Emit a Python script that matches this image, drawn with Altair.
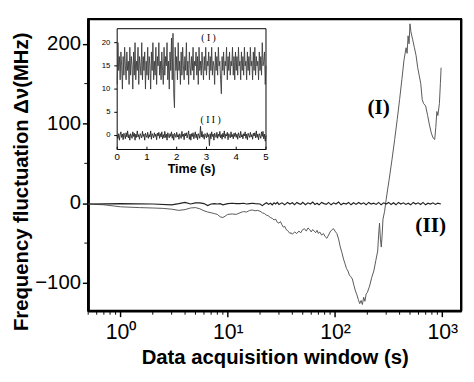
import math
import altair as alt
import pandas as pd

# ---- main curve (I) ----
c1_x = [0.5, 0.7, 1.0, 1.5, 2.0, 2.5, 3.0, 3.5, 4.0, 4.5, 5.0, 5.5, 6.0, 6.5, 7.0, 7.5, 8.0, 8.5, 9.0, 9.5,
        10, 11, 12, 13, 14, 15, 16, 17, 18, 19, 20, 21, 22, 23, 24, 25, 26, 27, 28, 29,
        30, 31, 32, 33, 34, 35, 36, 37, 38, 39, 40, 42, 44, 46, 48, 50, 52, 54, 56, 58,
        60, 62, 64, 66, 68, 70, 72, 75, 78, 81, 84, 87, 90, 94, 97, 100, 104, 108, 112, 116,
        120, 124, 128, 132, 136, 140, 145, 150, 155, 160, 165, 170, 175, 180, 185, 190, 195, 200, 210, 220,
        230, 240, 250, 255, 260, 265, 270, 275, 280, 290, 300, 310, 320, 340, 360, 380, 400, 420, 440, 460,
        470, 480, 490, 500, 510, 530, 550, 570, 590, 610, 630, 650, 670, 700, 730, 760, 790, 820, 850, 870,
        890, 910, 940, 960, 975]
c1_y = [-1, -2, -4.5, -5.5, -6, -6.5, -7.5, -9, -8, -6, -5.5, -7, -9.5, -11, -12, -13, -14, -17, -18, -16,
        -14, -13.5, -14, -12, -10.5, -11, -9, -8.5, -9.5, -9, -10, -12, -13, -15, -16, -18, -19, -21, -20, -24,
        -25, -23, -27, -30, -29, -33, -34, -36, -38, -37, -39, -36, -38, -35, -37, -33, -32, -35, -31, -33,
        -36, -33, -35, -37, -34, -38, -36, -40, -38, -42, -44, -40, -36, -33, -32, -35, -38, -45, -55, -62,
        -70, -76, -82, -85, -90, -92, -95, -103, -110, -115, -121, -126, -122, -127, -118, -123, -114, -112, -104, -93,
        -85, -72, -60, -40, -25, -45, -55, -40, -20, -10, 5, 18, 30, 55, 80, 105, 130, 155, 180, 195,
        188, 210, 200, 225, 215, 205, 195, 185, 170, 160, 150, 130, 125, 122, 110, 98, 88, 82, 80, 95,
        115, 110, 125, 150, 170]

# ---- main curve (II) ----
c2_x = [0.5, 1, 2, 3, 3.5, 4, 4.5, 5, 5.5, 6, 6.5, 7, 7.5, 8, 8.5, 9, 10, 11, 12, 13,
        14, 15, 16, 17, 18, 20, 21, 22, 23, 24, 25, 26, 27, 28, 29, 30, 32, 34, 36, 38,
        40, 42, 44, 46, 48, 50, 53, 56, 59, 62, 65, 68, 71, 75, 79, 83, 87, 92, 97, 102,
        108, 114, 120, 127, 134, 141, 149, 157, 166, 175, 185, 195, 206, 217, 229, 242, 255, 269, 284, 300,
        316, 333, 351, 370, 390, 411, 433, 457, 482, 508, 536, 565, 596, 628, 662, 698, 736, 776, 818, 862,
        910, 970]
c2_y = [-1, -0.5, -1, -2, -0.5, 1, -1, 0.5, 0.5, -0.5, -3, -1, -0.5, -1, -0.5, -2, -0.5, 0, -0.5, -0.5,
        0, -1, -0.5, 0, -0.5, -1, -3, -1, 0.5, -1.5, 0, -2, 0.5, -1, 1, -1.5, 0.5, -2, 1, -1,
        0.5, -2, 1, -0.5, -1.5, 1, -2, 0.5, -1, 1.5, -1.5, 0, -2, 1, -0.5, -1.5, 1, -2, 0.5, -1,
        1.5, -2, 0, -1, 1, -2, 0.5, -1.5, 1, -1, 0.5, -2, 1, -1, 0, -1.5, 1, -2, 0.5, -1,
        1, -1.5, 0.5, -2, 1, -1, 0.5, -1.5, 0, -2, 1, -1, 0.5, -1.5, 1, -2, 0, -1, 0.5, -1.5,
        0, -1]

# ---- inset ----
in_t = [i * 0.025 for i in range(201)]
in1 = [11, 20, 14, 17, 12, 18, 15, 10, 17, 13, 19, 15, 12, 18, 14, 16, 11, 19, 13, 17,
       15, 10, 18, 13, 20, 12, 16, 14, 19, 11, 17, 15, 13, 20, 12, 17, 14, 18, 10, 16,
       13, 19, 12, 17, 15, 10, 18, 14, 20, 12, 16, 13, 19, 11, 17, 15, 20, 13, 16, 12,
       18, 14, 11, 19, 13, 17, 15, 20, 12, 16, 10, 18, 14, 21, 12, 22, 9, 6, 19, 14,
       17, 12, 20, 14, 16, 11, 18, 13, 19, 15, 12, 17, 14, 20, 13, 16, 11, 18, 15, 13,
       17, 14, 19, 12, 16, 15, 18, 13, 17, 11, 19, 14, 16, 13, 18, 15, 12, 17, 14, 19,
       13, 16, 15, 18, 12, 17, 14, 19, 13, 16, 15, 11, 18, 14, 17, 13, 19, 15, 16, 12,
       9, 17, 14, 18, 13, 16, 15, 19, 12, 17, 14, 18, 13, 16, 15, 19, 13, 17, 12, 18,
       14, 17, 13, 19, 15, 16, 12, 18, 14, 17, 13, 19, 15, 16, 12, 18, 14, 17, 13, 19,
       15, 16, 12, 18, 14, 19, 13, 17, 15, 16, 12, 18, 14, 17, 13, 20, 15, 16, 18, 11,
       15]
in2 = [0, -0.6, 0.4, -1, 0.2, 0.8, -0.4, 0.3, -0.9, 0.5, 0, -0.7, 0.6, -0.3, 1, -0.5, 0.2, -1, 0.4, 0,
       -0.6, 0.8, -0.2, 0.5, -1, 0.3, -0.4, 1, -0.3, 0.2, -0.8, 0.4, 0, -0.5, 0.9, -0.2, 0.3, -1, 0.5, 0,
       -0.4, 0.7, -0.6, 0.2, -0.3, 1, -0.8, 0.4, 0, -0.5, 0.6, -0.2, 0.3, -0.9, 0.5, -0.1, 0.7, -0.6, 0.4, -0.3,
       0.8, -0.7, 0.2, -0.5, 0.9, -0.4, 0.3, -1, 0.6, 0, -0.5, 0.4, -0.2, 0.8, -0.6, 0.3, -1, 0.5, 0.1, -0.4,
       0.7, -0.3, 0.2, -0.8, 0.4, 0, -0.6, 0.9, -0.2, 0.3, -0.9, 0.5, -0.1, 0.6, -0.5, 0.2, 1, -0.8, 0.3, -1,
       0.4, -0.2, 0.6, -0.7, 0.1, 0.8, -0.5, 0.3, -0.9, 0.4, 0, -0.6, 2, -0.3, 0.9, -0.4, 0.2, -0.8, 0.4, 0,
       -0.5, 0.6, -0.3, 0.2, -2.2, 0.4, -0.7, 0.8, -0.2, 0.3, -1, 0.5, 0, -0.4, 0.7, -0.6, 0.3, -0.2, 0.9, -0.5,
       0.2, -0.8, 0.5, -0.3, 1, -0.6, 0.3, -0.1, 0.7, -0.9, 0.4, 0, -0.5, 0.8, -0.3, 0.2, -0.7, 0.5, -0.2, 0.6,
       -0.4, 0.3, -0.8, 0.6, 0, -0.5, 0.9, -0.3, 0.2, -0.7, 0.4, -0.1, 0.8, -0.6, 0.3, -0.9, 0.5, 0, -0.4, 0.7,
       -0.3, 0.2, -0.8, 0.5, -0.1, 0.6, -0.5, 1, -0.4, 0.3, -0.9, 0.4, 0, -0.6, 0.8, -0.2, 0.9, -0.7, 0.3, -1.2,
       0]

x_major = [1, 10, 100, 1000]
x_minor = [0.5, 0.6, 0.7, 0.8, 0.9, 2, 3, 4, 5, 6, 7, 8, 9, 20, 30, 40, 50, 60, 70, 80, 90,
           200, 300, 400, 500, 600, 700, 800, 900]
y_major = [-100, 0, 100, 200]
y_minor = [-50, 50, 150]
in_xticks = [0, 1, 2, 3, 4, 5]
in_yticks = [0, 5, 10, 15, 20]

X_DOM = [0.5, 1500]
Y_DOM = [-135, 231]
IN_T_DOM = [0, 5]
IN_V_DOM = [-3, 23]

W, H = 386, 302
IN_X = [30, 184]    # inset box, pixels inside the plot
IN_Y = [135, 10]

# inset placement expressed in the main scales' data space
LX0, LX1 = math.log10(X_DOM[0]), math.log10(X_DOM[1])
L0 = LX0 + IN_X[0] / W * (LX1 - LX0)
L1 = LX0 + IN_X[1] / W * (LX1 - LX0)
YB = Y_DOM[1] - IN_Y[0] / H * (Y_DOM[1] - Y_DOM[0])
YT = Y_DOM[1] - IN_Y[1] / H * (Y_DOM[1] - Y_DOM[0])


def tx(f):
    return f"pow(10, {L0} + (datum.{f} - {IN_T_DOM[0]}) / {IN_T_DOM[1] - IN_T_DOM[0]} * {L1 - L0})"


def ty(f):
    return f"{YB} + (datum.{f} - {IN_V_DOM[0]}) / {IN_V_DOM[1] - IN_V_DOM[0]} * {YT - YB}"


xs = alt.Scale(type="log", domain=X_DOM, nice=False)
ys = alt.Scale(domain=Y_DOM, nice=False, zero=False)

xaxis = alt.Axis(values=x_major, title="Data acquisition window (s)",
                 labelExpr="datum.value == 1 ? '10⁰' : datum.value == 10 ? '10¹' : datum.value == 100 ? '10²' : '10³'",
                 labelFontSize=22, labelFont="Liberation Sans", labelColor="black",
                 tickSize=6, tickColor="black", tickWidth=1.5, domain=True, domainColor="black",
                 domainWidth=2.4, grid=False, labelPadding=6,
                 titleFontSize=21, titleFont="Liberation Sans", titleFontWeight="bold", titleColor="black",
                 titlePadding=4)
yaxis = alt.Axis(values=y_major, title="Frequency fluctuation Δν(MHz)",
                 labelFontSize=21, labelFont="Liberation Sans", labelColor="black",
                 tickSize=6, tickColor="black", tickWidth=1.5, domain=True, domainColor="black",
                 domainWidth=2.4, grid=False, labelPadding=2,
                 titleFontSize=21, titleFont="Liberation Sans", titleFontWeight="bold", titleColor="black",
                 titlePadding=3, titleY=168)

X = lambda: alt.X("x:Q", scale=xs)
Y = lambda: alt.Y("y:Q", scale=ys)

frame_df = pd.DataFrame({
    "x": [X_DOM[0], X_DOM[0], X_DOM[0], X_DOM[1]],
    "x2": [X_DOM[1], X_DOM[1], X_DOM[0], X_DOM[1]],
    "y": [Y_DOM[0], Y_DOM[1], Y_DOM[0], Y_DOM[0]],
    "y2": [Y_DOM[0], Y_DOM[1], Y_DOM[1], Y_DOM[1]],
})
box = alt.Chart(frame_df).mark_rule(color="black", strokeWidth=2.4).encode(
    x=alt.X("x:Q", scale=xs, axis=xaxis), x2="x2:Q",
    y=alt.Y("y:Q", scale=ys, axis=yaxis), y2="y2:Q")

line1 = alt.Chart(pd.DataFrame({"x": c1_x, "y": c1_y})).mark_line(color="#555555", strokeWidth=1).encode(
    x=X(), y=Y())
line2 = alt.Chart(pd.DataFrame({"x": c2_x, "y": c2_y})).mark_line(color="#222222", strokeWidth=1.2).encode(
    x=X(), y=Y())

xminor = alt.Chart(pd.DataFrame({"x": x_minor})).mark_rule(color="black", strokeWidth=1).encode(
    x=X(), y=alt.value(H), y2=alt.value(H + 4))
yminor = alt.Chart(pd.DataFrame({"y": y_minor})).mark_rule(color="black", strokeWidth=1).encode(
    y=Y(), x=alt.value(-4), x2=alt.value(0))

lab_df = pd.DataFrame({"x": [255, 780], "y": [120, -27], "t": ["(I)", "(II)"]})
labels = alt.Chart(lab_df).mark_text(font="Liberation Serif", fontWeight="bold", fontSize=22,
                                     color="black").encode(x=X(), y=Y(), text="t:N")

# ---- inset, mapped into the main scales ----
ibox_df = pd.DataFrame({"t0": [IN_T_DOM[0]], "t1": [IN_T_DOM[1]], "v0": [IN_V_DOM[0]], "v1": [IN_V_DOM[1]]})
ibox = alt.Chart(ibox_df).transform_calculate(
    x=tx("t0"), x2=tx("t1"), y=ty("v0"), y2=ty("v1")
).mark_rect(fill="white", stroke="black", strokeWidth=1).encode(x=X(), x2="x2:Q", y=Y(), y2="y2:Q")

iline1 = alt.Chart(pd.DataFrame({"t": in_t, "v": in1})).transform_calculate(
    x=tx("t"), y=ty("v")).mark_line(color="#3a3a3a", strokeWidth=0.9).encode(x=X(), y=Y())
iline2 = alt.Chart(pd.DataFrame({"t": in_t, "v": in2})).transform_calculate(
    x=tx("t"), y=ty("v")).mark_line(color="#222222", strokeWidth=0.9).encode(x=X(), y=Y())

ixt_df = pd.DataFrame({"t": in_xticks, "v0": [IN_V_DOM[0]] * 6, "v1": [IN_V_DOM[0] + 0.6] * 6,
                       "lab": [str(v) for v in in_xticks]})
ixticks = alt.Chart(ixt_df).transform_calculate(
    x=tx("t"), y=ty("v0"), y2=ty("v1")).mark_rule(color="black").encode(x=X(), y=Y(), y2="y2:Q")
ixlabels = alt.Chart(ixt_df).transform_calculate(x=tx("t"), y=ty("v0")).mark_text(
    font="Liberation Sans", fontSize=10, baseline="top", dy=3, color="black").encode(x=X(), y=Y(), text="lab:N")

iyt_df = pd.DataFrame({"v": in_yticks, "t0": [IN_T_DOM[0]] * 5, "t1": [IN_T_DOM[0] - 0.1] * 5,
                       "lab": [str(v) for v in in_yticks]})
iyticks = alt.Chart(iyt_df).transform_calculate(
    x=tx("t0"), x2=tx("t1"), y=ty("v")).mark_rule(color="black").encode(x=X(), x2="x2:Q", y=Y())
iylabels = alt.Chart(iyt_df).transform_calculate(x=tx("t0"), y=ty("v")).mark_text(
    font="Liberation Sans", fontSize=8, align="right", dx=-7, color="black").encode(x=X(), y=Y(), text="lab:N")

ititle = alt.Chart(pd.DataFrame({"t": [2.5], "v": [IN_V_DOM[0]], "lab": ["Time (s)"]})).transform_calculate(
    x=tx("t"), y=ty("v")).mark_text(font="Liberation Sans", fontSize=13, fontWeight="bold",
                                    baseline="top", dy=14, color="black").encode(x=X(), y=Y(), text="lab:N")

ilab_df = pd.DataFrame({"t": [3.07, 3.14], "v": [20.9, 3.3], "lab": ["( I )", "( I I )"]})
ilabels = alt.Chart(ilab_df).transform_calculate(x=tx("t"), y=ty("v")).mark_text(
    font="Liberation Serif", fontSize=10, color="black").encode(x=X(), y=Y(), text="lab:N")

chart = alt.layer(
    box, line1, line2, xminor, yminor, labels,
    ibox, iline1, iline2, ixticks, iyticks, ixlabels, iylabels, ititle, ilabels
).properties(
    width=W, height=H,
    padding={"left": 3, "top": 3, "right": 3, "bottom": 3}
).configure_view(stroke="black", strokeWidth=2)

chart.save("out.html", embed_options={"renderer": "svg", "actions": False})
